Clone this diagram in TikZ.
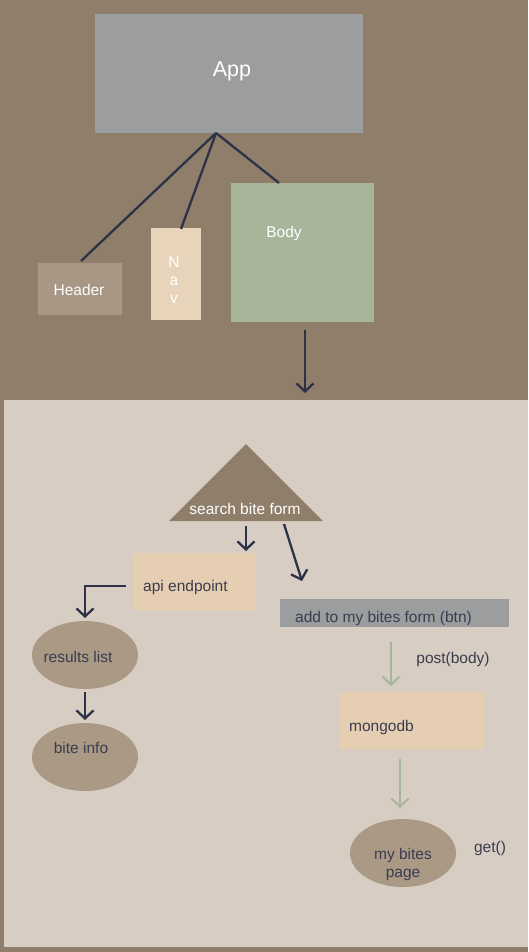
\documentclass[tikz,border=0pt]{standalone}
\usepackage{fontspec}
\setmainfont{Liberation Sans}
\usetikzlibrary{arrows.meta,shapes.geometric}
\definecolor{bgbrown}{HTML}{8F7E6A}
\definecolor{panel}{HTML}{D8CDC2}
\definecolor{appgrey}{HTML}{9C9D9F}
\definecolor{hdr}{HTML}{A89784}
\definecolor{peach}{HTML}{E6CEB3}
\definecolor{sage}{HTML}{A7B59B}
\definecolor{navy}{HTML}{2E3248}
\definecolor{txt}{HTML}{3A3D50}
\definecolor{oval}{HTML}{AA9985}
\tikzset{
  box/.style={draw=none,inner sep=0pt,anchor=north west},
  wtext/.style={text=white,inner sep=0pt,font=\fontsize{15.5}{18}\selectfont},
  dtext/.style={text=txt,inner sep=0pt,font=\fontsize{15.5}{18}\selectfont},
  link/.style={draw=navy,line width=2.3pt},
  darr/.style={draw=navy,line width=2.3pt,-{Straight Barb[length=8pt,width=17pt,line width=2.3pt]}},
  garr/.style={draw=sage,line width=2pt,-{Straight Barb[length=8pt,width=17pt,line width=2pt]}},
  ov/.style={ellipse,fill=oval,minimum width=106pt,minimum height=68pt,inner sep=0pt}
}
\begin{document}
\begin{tikzpicture}[x=1pt,y=-1pt]
\useasboundingbox (0,0) rectangle (528,952);
\fill[bgbrown] (0,0) rectangle (528,952);
\fill[panel] (4,400) rectangle (528,947);
% top part
\node[box,fill=appgrey,minimum width=268pt,minimum height=119pt] (app) at (95,14) {};
\node[wtext,font=\fontsize{21.5}{25}\selectfont] at (232,71) {App};
\node[box,fill=hdr,minimum width=84pt,minimum height=52pt] (header) at (38,263) {};
\node[wtext] at (79,290) {Header};
\node[box,fill=peach!90!white,minimum width=50pt,minimum height=92pt] (nav) at (151,228) {};
\node[wtext,align=center,font=\fontsize{15.5}{18}\selectfont] at (174,280) {N\\a\\v};
\node[box,fill=sage,minimum width=143pt,minimum height=139pt] (body) at (231,183) {};
\node[wtext] at (284,233) {Body};
\coordinate (appb) at (216,133);
\draw[link] (appb) -- (81,261);
\draw[link] (appb) -- (181,229);
\draw[link] (appb) -- (279,183);
\coordinate (b1) at (305,330);
\coordinate (b2) at (305,393);
\draw[darr] (b1) -- (b2);
% lower
\fill[bgbrown] (246,444) coordinate (tri) -- (323,521) -- (169,521) -- cycle;
\node[wtext] (sbf) at (245,509) {search bite form};
\node[box,fill=peach,minimum width=121pt,minimum height=57pt] (api) at (134,553) {};
\node[dtext,anchor=west] at (143,587) {api endpoint};
\node[box,fill=appgrey,minimum width=229pt,minimum height=28pt] (add) at (280,599) {};
\node[dtext,anchor=west] at (295,618) {add to my bites form (btn)};
\node[ov] (res) at (85,655) {};
\node[dtext] at (78,657) {results list};
\node[ov] (bite) at (85,757) {};
\node[dtext] at (81,748) {bite info};
\node[box,fill=peach,minimum width=145pt,minimum height=57pt] (mongo) at (339,692) {};
\node[dtext,anchor=west] at (349,727) {mongodb};
\node[ov] (mine) at (403,853) {};
\node[dtext,align=center,font=\fontsize{15.5}{18}\selectfont] at (403,864) {my bites\\page};
\node[dtext] at (453,659) {post(body)};
\node[dtext] at (490,848) {get()};
% arrows
\coordinate (s1) at (246,526); \coordinate (s2) at (246,551);
\draw[darr] (s1) -- (s2);
\coordinate (t1) at (284,524); \coordinate (t2) at (302,581);
\draw[darr] (t1) -- (t2);
\coordinate (e1) at (126,586); \coordinate (e2) at (85,618);
\draw[darr] (e1) -- (85,586) -- (e2);
\coordinate (r1) at (85,692); \coordinate (r2) at (85,720);
\draw[darr] (r1) -- (r2);
\coordinate (g1) at (391,642); \coordinate (g2) at (391,686);
\draw[garr] (g1) -- (g2);
\coordinate (h1) at (400,759); \coordinate (h2) at (400,808);
\draw[garr] (h1) -- (h2);
\end{tikzpicture}
\end{document}
